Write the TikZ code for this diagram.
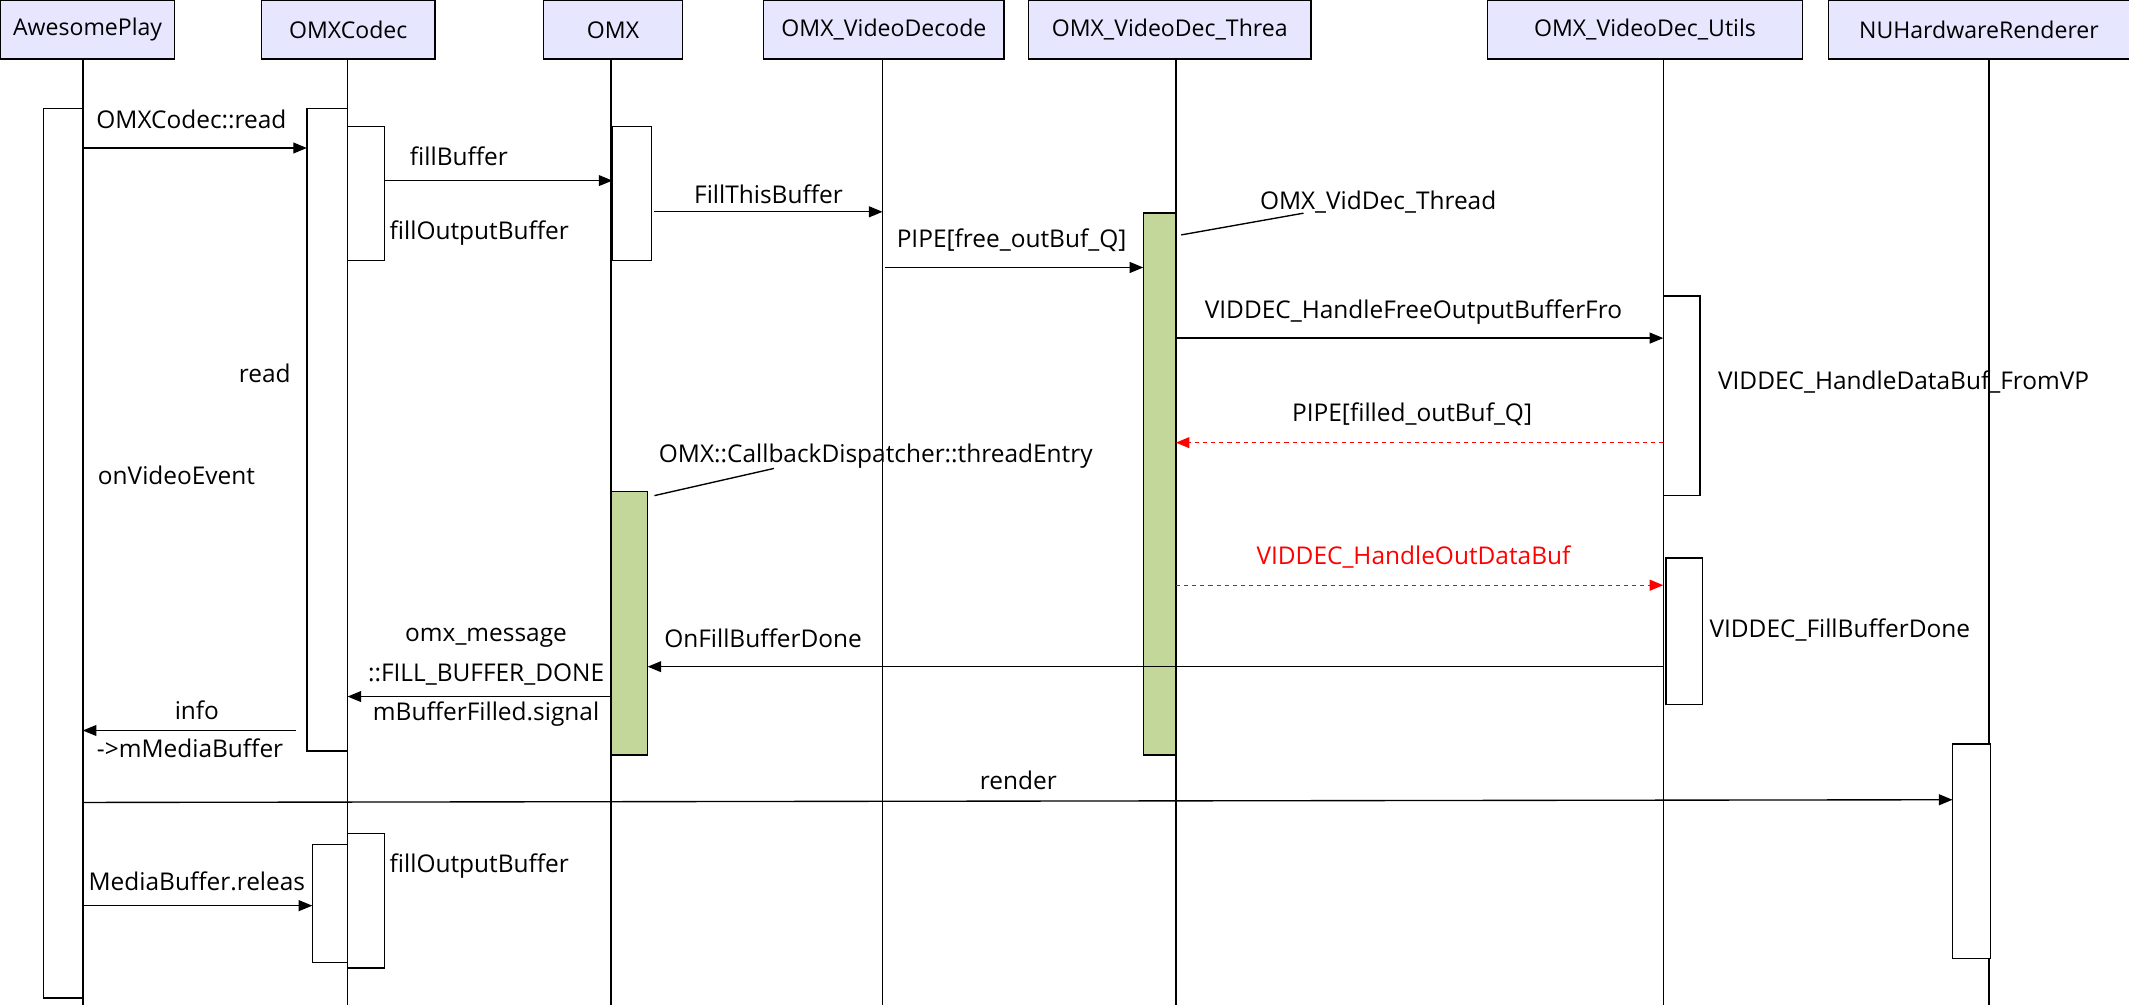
\documentclass[tikz,border=0pt]{standalone}
\usepackage{fontspec}
\setmainfont{Open Sans}
\usetikzlibrary{arrows.meta}
\definecolor{hdr}{RGB}{230,230,255}
\definecolor{grn}{RGB}{196,215,155}
\begin{document}
\begin{tikzpicture}[x=1pt,y=-1pt,line width=1pt,
  hd/.style={draw,fill=hdr,minimum height=43pt,inner sep=0pt,anchor=north west},
  act/.style={draw,fill=white},
  gact/.style={draw,fill=grn},
  msg/.style={-{Triangle[length=10pt,width=8pt]},line width=1pt},
  rmsg/.style={msg,red,dashed},
  lb/.style={font=\fontsize{18}{20}\selectfont,inner sep=1pt},
  life/.style={line width=1pt}]
\useasboundingbox (0,0) rectangle (1568,742);
\foreach \n/\x/\w/\t in {a/0/128/AwesomePlay,b/192/128/OMXCodec,c/400/102/OMX,d/562/177/OMX\_VideoDecode,e/757/208/OMX\_VideoDec\_Threa,f/1095/232/OMX\_VideoDec\_Utils,g/1346/222/NUHardwareRenderer}
  \node[hd,minimum width=\w pt,font=\fontsize{17}{19}\selectfont] (\n) at (\x,0) {\t};
\foreach \n/\x in {a/61,b/256,c/450,d/650,e/866,f/1225,g/1465}
  \draw[life] (\x,43) -- (\x,740);
% activations
\draw[act] (32,80) rectangle (61,735);
\draw[act] (226,80) rectangle (256,553);
\draw[act] (256,93) rectangle (283,192);
\draw[act] (451,93) rectangle (480,192);
\draw[gact] (450,362) rectangle (477,556);
\draw[gact] (842,157) rectangle (866,556);
\draw[act] (1225,218) rectangle (1252,365);
\draw[act] (1227,411) rectangle (1254,519);
\draw[act] (1438,548) rectangle (1466,706);
\draw[act] (256,614) rectangle (283,713);
\draw[act] (230,622) rectangle (256,709);
% coordinates
\coordinate (m1s) at (61,109); \coordinate (m1e) at (226,109);
\coordinate (m2s) at (283,133); \coordinate (m2e) at (451,133);
\coordinate (m3s) at (482,156); \coordinate (m3e) at (650,156);
\coordinate (m4s) at (652,197); \coordinate (m4e) at (842,197);
\coordinate (m5s) at (866,249); \coordinate (m5e) at (1225,249);
\coordinate (m6s) at (1225,326); \coordinate (m6e) at (866,326);
\coordinate (m7s) at (866,431); \coordinate (m7e) at (1225,431);
\coordinate (m8s) at (1225,491); \coordinate (m8e) at (477,491);
\coordinate (m9s) at (450,513); \coordinate (m9e) at (256,513);
\coordinate (m10s) at (218,538); \coordinate (m10e) at (61,538);
\coordinate (m11s) at (61,591); \coordinate (m11e) at (1438,589);
\coordinate (m12s) at (61,667); \coordinate (m12e) at (230,667);
\draw[msg] (m1s) -- (m1e); \draw[msg] (m2s) -- (m2e); \draw[msg] (m3s) -- (m3e);
\draw[msg] (m4s) -- (m4e); \draw[msg] (m5s) -- (m5e);
\draw[rmsg] (m6s) -- (m6e); \draw[rmsg] (m7s) -- (m7e);
\draw[msg] (m8s) -- (m8e); \draw[msg] (m9s) -- (m9e); \draw[msg] (m10s) -- (m10e);
\draw[msg] (m11s) -- (m11e); \draw[msg] (m12s) -- (m12e);
% labels
\node[lb] (t1) at (141,88) {OMXCodec::read};
\node[lb] (t2) at (338,115) {fillBuffer};
\node[lb] (t3) at (353,172) {fillOutputBuffer};
\node[lb] (t4) at (566,143) {FillThisBuffer};
\node[lb] (t5) at (745,177) {PIPE[free\_outBuf\_Q]};
\node[lb] (t6) at (1015,149) {OMX\_VidDec\_Thread};
\node[lb] (t7) at (1041,230) {VIDDEC\_HandleFreeOutputBufferFro};
\node[lb] (t8) at (195,275) {read};
\node[lb] (t9) at (1402,281) {VIDDEC\_HandleDataBuf\_FromVP};
\node[lb] (t10) at (1040,305) {PIPE[filled\_outBuf\_Q]};
\node[lb] (t11) at (645,336) {OMX::CallbackDispatcher::threadEntry};
\node[lb] (t12) at (130,350) {onVideoEvent};
\node[lb,red] (t13) at (1041,410) {VIDDEC\_HandleOutDataBuf};
\node[lb] (t14) at (1355,464) {VIDDEC\_FillBufferDone};
\node[lb] (t15) at (562,470) {OnFillBufferDone};
\node[lb] (t16) at (358,470) {omx\_message};
\node[lb] (t17) at (358,497) {::FILL\_BUFFER\_DONE};
\node[lb] (t18) at (358,526) {mBufferFilled.signal};
\node[lb] (t19) at (145,523) {info};
\node[lb] (t20) at (140,551) {->mMediaBuffer};
\node[lb] (t21) at (750,575) {render};
\node[lb] (t22) at (353,638) {fillOutputBuffer};
\node[lb] (t23) at (145,649) {MediaBuffer.releas};
\coordinate (c1) at (870,173); \coordinate (c2) at (960,157);
\coordinate (c3) at (482,365); \coordinate (c4) at (570,345);
\draw (c1) -- (c2); \draw (c3) -- (c4);
\end{tikzpicture}
\end{document}
